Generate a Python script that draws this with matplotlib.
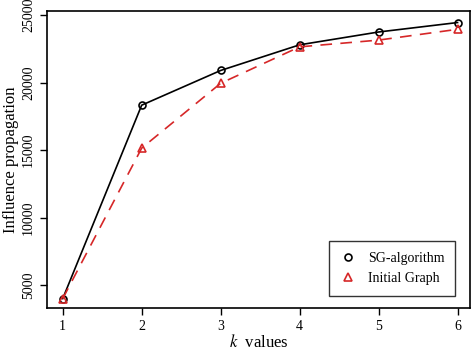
import matplotlib
matplotlib.use("Agg")
import matplotlib.pyplot as plt

k_values = [1, 2, 3, 4, 5, 6]
sg_algorithm = [4000, 18330, 20900, 22800, 23750, 24450]
initial_graph = [4000, 15150, 19950, 22650, 23150, 23950]
y_ticks = [5000, 10000, 15000, 20000, 25000]

plt.rcParams['font.family'] = ['Liberation Serif', 'DejaVu Serif']
plt.rcParams['mathtext.fontset'] = 'stix'
fig = plt.figure(figsize=(4.74, 3.57), dpi=100)
ax = fig.add_axes([0.099, 0.137, 0.893, 0.832])

ax.plot(k_values, sg_algorithm, color='black', lw=1.2, marker='o', ms=5,
        mfc='none', mec='black', mew=1.2, label='SG-algorithm')
ax.plot(k_values, initial_graph, color='#d62728', lw=1.2, ls=(0, (7, 5)), marker='^', ms=6,
        mfc='none', mec='#d62728', mew=1.2, label='Initial Graph')

ax.set_xlim(0.8, 6.16)
ax.set_ylim(3300, 25300)
ax.set_xticks(k_values)
ax.set_yticks(y_ticks)
ax.set_yticklabels([str(v) for v in y_ticks], rotation=90, va='center')
ax.tick_params(labelsize=10, length=5, width=1, direction='out')
for s in ax.spines.values():
    s.set_linewidth(1.2)

ax.set_xlabel(r'$k$  values', fontsize=12, labelpad=1)
ax.set_ylabel('Influence propagation', fontsize=12, labelpad=2)

leg = ax.legend(loc='lower right', bbox_to_anchor=(0.965, 0.04), fontsize=10, frameon=True,
                fancybox=False, edgecolor='black', borderpad=0.8, handlelength=1.2,
                handletextpad=0.8, borderaxespad=0)
leg.get_frame().set_linewidth(1.0)
for h in leg.legend_handles:
    h.set_linestyle('none')

fig.savefig('out.png', dpi=100)
